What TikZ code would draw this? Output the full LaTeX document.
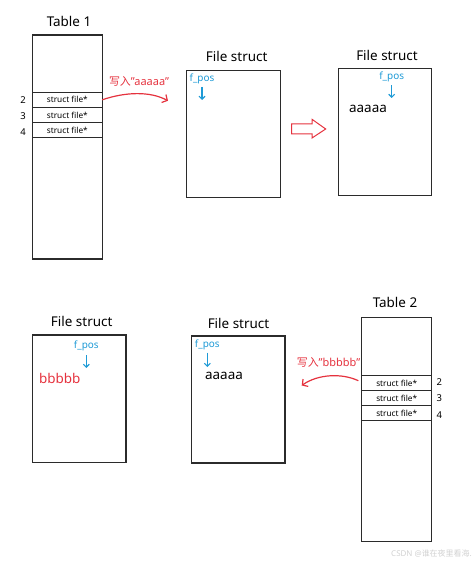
\documentclass[tikz,border=0pt]{standalone}
\usepackage{fontspec}
\setmainfont{Noto Sans}
\newfontfamily\cjk{Noto Sans CJK SC}
\usetikzlibrary{arrows.meta}
\definecolor{myred}{HTML}{E5323E}
\definecolor{myblue}{HTML}{1E9AD6}
\definecolor{edge}{HTML}{2B2B2B}
\begin{document}
\begin{tikzpicture}[x=1bp,y=-1bp,
  box/.style={draw=edge,line width=1.35bp,rectangle,inner sep=0,outer sep=0},
  rowbox/.style={box,minimum width=70bp,minimum height=15bp,font=\fontsize{8.3}{10}\selectfont},
  ttl/.style={font=\fontsize{13.5}{16}\selectfont,inner sep=0},
  idx/.style={font=\fontsize{9.5}{11}\selectfont,inner sep=0},
  fpos/.style={font=\fontsize{10}{12}\selectfont,text=myblue,inner sep=0},
  fparrow/.style={draw=myblue,line width=1.1bp,-{Straight Barb[length=3bp,width=6bp]}},
  content/.style={font=\fontsize{13.5}{16}\selectfont,inner sep=0},
  wlabel/.style={font=\fontsize{11}{13}\selectfont,text=myred,inner sep=0},
  warrow/.style={draw=myred,line width=1.2bp,-{Straight Barb[length=4bp,width=9bp]}}]
\useasboundingbox (0,0) rectangle (474,562);

% ---- Table 1 ----
\node[ttl] (t1title) at (69,21) {Table 1};
\node[box,minimum width=70bp,minimum height=224bp] (t1) at (67.3,147) {};
\node[rowbox] (t1r2) at (67.3,99.8) {struct file*};
\node[rowbox] (t1r3) at (67.3,115.1) {struct file*};
\node[rowbox] (t1r4) at (67.3,130.3) {struct file*};
\node[idx] (t1i2) at (23,99.8) {2};
\node[idx] (t1i3) at (23,116) {3};
\node[idx] (t1i4) at (23,132.5) {4};

% ---- File struct 1 ----
\node[ttl] (f1title) at (236.7,56.7) {File struct};
\node[box,minimum width=94bp,minimum height=126.6bp] (f1) at (233.7,134) {};
\node[fpos] (f1p) at (202,78.5) {f\_pos};
\coordinate (f1a) at (202,100);
\draw[fparrow] (202,87) -- (f1a);

% ---- arrow write aaaaa ----
\node[wlabel] (w1) at (139,81.5) {{\cjk 写入}\char"0022 aaaaa\char"0022};
\coordinate (w1end) at (168,100.8);
\draw[warrow] (t1r2.east) .. controls (125,92) and (150,91) .. (w1end);

% ---- hollow arrow ----
\draw[draw=myred,line width=1bp,line join=miter] (291.5,124) -- (312,124) -- (312,119.3) -- (325.7,129) -- (312,138) -- (312,134) -- (291.5,134) -- cycle;

% ---- File struct 2 ----
\node[ttl] (f2title) at (387,55) {File struct};
\node[box,minimum width=93.4bp,minimum height=126.6bp] (f2) at (385,132) {};
\node[fpos] (f2p) at (391.7,77) {f\_pos};
\coordinate (f2a) at (391.7,98);
\draw[fparrow] (391.7,85.5) -- (f2a);
\node[content] (f2c) at (368,109) {aaaaa};

% ---- File struct 3 ----
\node[ttl] (f3title) at (81.7,321.7) {File struct};
\node[box,minimum width=93.7bp,minimum height=127.3bp] (f3) at (79.2,398.7) {};
\node[fpos] (f3p) at (86.3,346) {f\_pos};
\coordinate (f3a) at (86.3,368);
\draw[fparrow] (86.3,355) -- (f3a);
\node[content,text=myred] (f3c) at (59.7,378.5) {bbbbb};

% ---- File struct 4 ----
\node[ttl] (f4title) at (238.5,323) {File struct};
\node[box,minimum width=93.3bp,minimum height=127bp] (f4) at (238.3,399.5) {};
\node[fpos] (f4p) at (207.3,344.5) {f\_pos};
\coordinate (f4a) at (207.3,367);
\draw[fparrow] (207.3,352.5) -- (f4a);
\node[content] (f4c) at (224,376) {aaaaa};

% ---- Table 2 ----
\node[ttl] (t2title) at (395,302.7) {Table 2};
\node[box,minimum width=70bp,minimum height=224bp] (t2) at (396.7,429.7) {};
\node[rowbox] (t2r2) at (396.7,383) {struct file*};
\node[rowbox] (t2r3) at (396.7,398) {struct file*};
\node[rowbox] (t2r4) at (396.7,413.2) {struct file*};
\node[idx] (t2i2) at (439.3,382.5) {2};
\node[idx] (t2i3) at (439.3,398.5) {3};
\node[idx] (t2i4) at (439.3,415) {4};

% ---- arrow write bbbbb ----
\node[wlabel] (w2) at (328.5,362.3) {{\cjk 写入}\char"0022 bbbbb\char"0022};
\coordinate (w2start) at (358.3,380.7);
\coordinate (w2end) at (301.7,385.5);
\draw[warrow] (w2start) .. controls (342,373) and (318,374) .. (w2end);

% ---- watermark ----
\node[font=\fontsize{8}{10}\selectfont,text=black!18,inner sep=0,anchor=east] (wm) at (472,553) {CSDN @{\cjk 谁在夜里看海.}};
\end{tikzpicture}
\end{document}
